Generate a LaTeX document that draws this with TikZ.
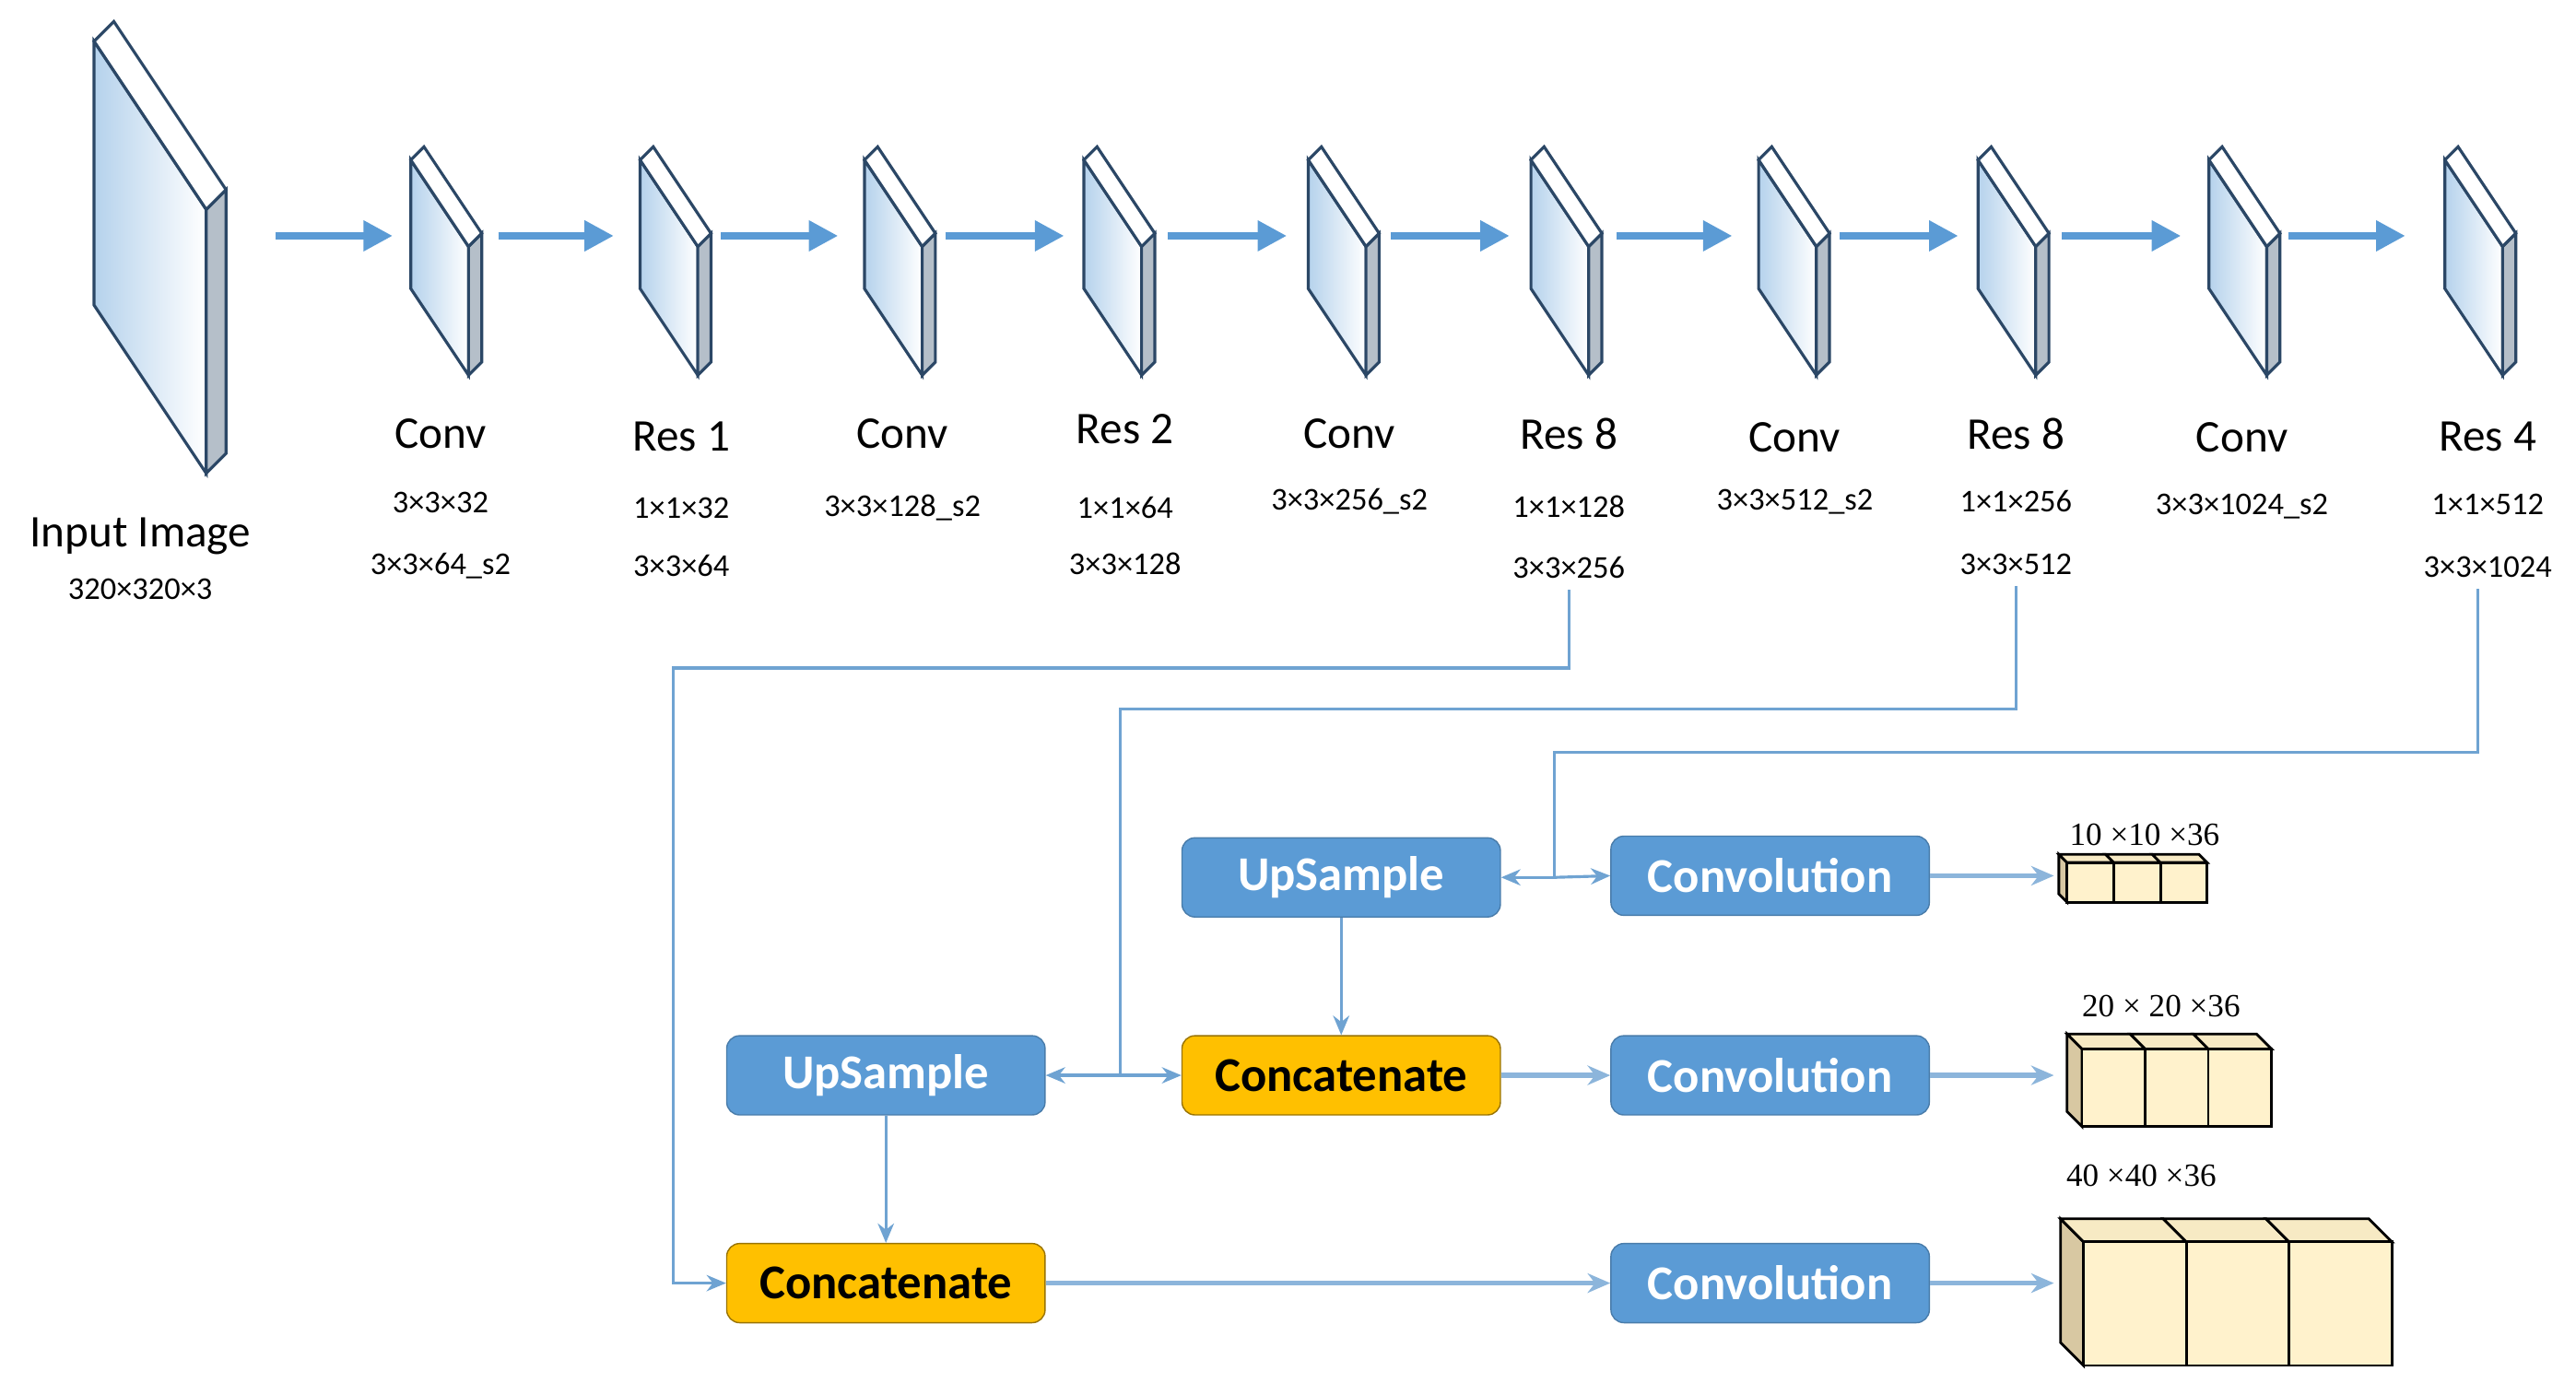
\documentclass[tikz,border=0pt]{standalone}
\usepackage{fontspec}
\setmainfont{Carlito}
\newfontfamily\cubefont{Liberation Serif}
\usetikzlibrary{arrows.meta}
\definecolor{bblue}{HTML}{5B9BD5}
\definecolor{lblue}{HTML}{6FA3D2}
\definecolor{navy}{HTML}{2B4766}
\definecolor{orng}{HTML}{FFC000}
\definecolor{cfront}{HTML}{FFF2CC}
\definecolor{cside}{HTML}{D8C8A2}
\newcommand\myslab[5]{% x, ytop, w, h, d
  \fill[left color=bblue!45!white,right color=white,draw=navy,line width=0.9pt]
    (#1,#2) -- ++(#3,{#3*1.5}) -- ++(0,#4) -- ++(-#3,{-#3*1.5}) -- cycle;
  \fill[fill=navy!35!white,draw=navy,line width=0.9pt]
    ({#1+#3},{#2+#3*1.5}) -- ++(#5,-#5) -- ++(0,#4) -- ++(-#5,#5) -- cycle;
  \fill[fill=white,draw=navy,line width=0.9pt]
    (#1,#2) -- ++(#5,-#5) -- ++(#3,{#3*1.5}) -- ++(-#5,#5) -- cycle;
}
\newcommand\mycube[6]{% x0, ytop, w, h, d, n
  \fill[cside,draw=black,line width=0.8pt] (#1,#2) -- ++(-#5,-#5) -- ++(0,#4) -- ++(#5,#5) -- cycle;
  \foreach \i in {1,...,#6}{
    \pgfmathsetmacro\xa{#1+(\i-1)*#3}
    \fill[cfront!80!cside,draw=black,line width=0.8pt] (\xa,#2) -- ++(-#5,-#5) -- ++(#3,0) -- ++(#5,#5) -- cycle;
    \fill[cfront,draw=black,line width=0.8pt] (\xa,#2) rectangle ++(#3,#4);
  }
}
\newlength\pxu \setlength\pxu{0.0179cm}
\tikzset{
  big/.style={-{Triangle[length=9pt,width=9pt]},bblue,line width=2.2pt},
  thin/.style={-{Stealth[length=6pt,width=5pt]},lblue,line width=0.9pt},
  med/.style={-{Stealth[length=7pt,width=6pt]},lblue!80!white,line width=1.6pt},
  box/.style={rounded corners=4pt,minimum width=193\pxu,minimum height=48\pxu,font=\fontsize{15}{17}\selectfont\bfseries},
  ubox/.style={box,fill=bblue,draw=bblue!80!black,text=white},
  cbox/.style={box,fill=orng,draw=orng!60!black,text=black},
  ttl/.style={font=\fontsize{14}{16}\selectfont},
  sml/.style={font=\fontsize{9.8}{11}\selectfont},
  cub/.style={font=\cubefont\fontsize{10}{11}\selectfont}
}
\begin{document}
\begin{tikzpicture}[x=0.0179cm,y=-0.0179cm]
\useasboundingbox (0,0) rectangle (1561.5,838.5);
% input slab
\myslab{57}{25}{68}{160}{12}
\node[ttl] (in) at (85,325) {Input Image};
\node[sml] (ins) at (85,357) {320×320×3};
% slabs
\foreach \x in {249,388,524,657,793,928,1066,1199,1339,1482}{\myslab{\x}{97}{35}{78}{8}}
\foreach \s/\e [count=\k] in {167/238,302/372,437/508,573/645,708/780,843/915,980/1050,1115/1187,1250/1322,1387/1458}{
  \coordinate (s\k) at (\s,143); \coordinate (e\k) at (\e,143);
  \draw[big] (s\k) -- (e\k);}
% labels
\node[ttl] (t1) at (267,263) {Conv};
\node[sml] (t1a) at (267,305) {3×3×32};
\node[sml] (t1b) at (267,343) {3×3×64\_s2};
\node[ttl] (t2) at (413,265) {Res 1};
\node[sml] (t2a) at (413,308) {1×1×32};
\node[sml] (t2b) at (413,343) {3×3×64};
\node[ttl] (t3) at (547,263) {Conv};
\node[sml] (t3a) at (547,308) {3×3×128\_s2};
\node[ttl] (t4) at (682,260) {Res 2};
\node[sml] (t4a) at (682,308) {1×1×64};
\node[sml] (t4b) at (682,342) {3×3×128};
\node[ttl] (t5) at (818,263) {Conv};
\node[sml] (t5a) at (818,304) {3×3×256\_s2};
\node[ttl] (t6) at (951,263) {Res 8};
\node[sml] (t6a) at (951,307) {1×1×128};
\node[sml] (t6b) at (951,344) {3×3×256};
\node[ttl] (t7) at (1088,265) {Conv};
\node[sml] (t7a) at (1088,304) {3×3×512\_s2};
\node[ttl] (t8) at (1222,263) {Res 8};
\node[sml] (t8a) at (1222,304) {1×1×256};
\node[sml] (t8b) at (1222,342) {3×3×512};
\node[ttl] (t9) at (1359,265) {Conv};
\node[sml] (t9a) at (1359,307) {3×3×1024\_s2};
\node[ttl] (t10) at (1508,265) {Res 4};
\node[sml] (t10a) at (1508,306) {1×1×512};
\node[sml] (t10b) at (1508,344) {3×3×1024};
% boxes
\node[ubox] (up1) at (813,532) {UpSample};
\node[ubox] (cv1) at (1073,531) {Convolution};
\node[cbox] (cc1) at (813,652) {Concatenate};
\node[ubox] (cv2) at (1073,652) {Convolution};
\node[ubox] (up2) at (537,652) {UpSample};
\node[cbox] (cc2) at (537,778) {Concatenate};
\node[ubox] (cv3) at (1073,778) {Convolution};
% skip lines
\coordinate (j1) at (942,532);
\coordinate (j2) at (679,652);
\draw[thin,-] (t10b.south) ++(-6,0) |- (942,456) -- (j1);
\draw[thin] (j1) -- (up1.east);
\draw[thin] (j1) -- (cv1.west);
\draw[thin,-] (t8b.south) |- (679,430) -- (j2);
\draw[thin] (j2) -- (up2.east);
\draw[thin] (j2) -- (cc1.west);
\draw[thin] (t6b.south) |- (408,405) |- (cc2.west);
\draw[thin] (up1.south) -- (cc1.north);
\draw[thin] (up2.south) -- (cc2.north);
\draw[med] (cc1.east) -- (cv2.west);
\draw[med] (cc2.east) -- (cv3.west);
% cubes
\mycube{1253}{523}{28.3}{24}{5}{3}
\mycube{1262}{636}{38.3}{47}{9}{3}
\mycube{1263}{753}{62.3}{75}{14}{3}
\coordinate (k1) at (1245,531); \coordinate (k2) at (1245,652); \coordinate (k3) at (1245,778);
\draw[med] (cv1.east) -- (k1);
\draw[med] (cv2.east) -- (k2);
\draw[med] (cv3.east) -- (k3);
\node[cub] (l1) at (1300,506) {10 ×10 ×36};
\node[cub] (l2) at (1310,610) {20 × 20 ×36};
\node[cub] (l3) at (1298,713) {40 ×40 ×36};
\end{tikzpicture}
\end{document}
